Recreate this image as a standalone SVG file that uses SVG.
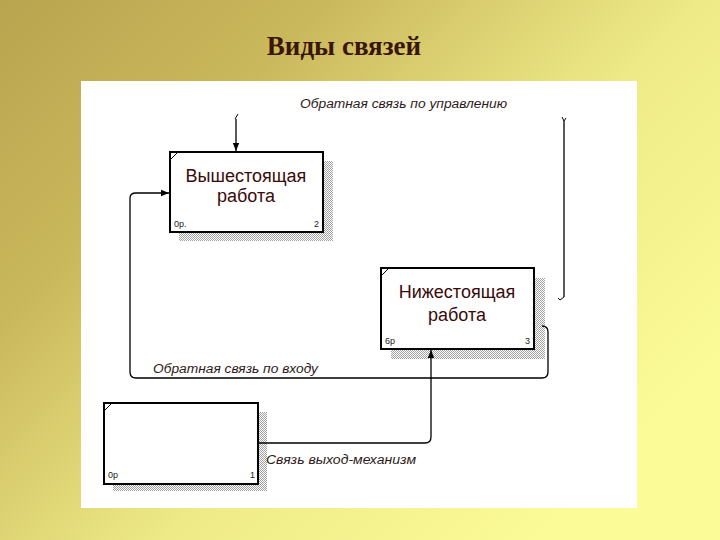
<svg xmlns="http://www.w3.org/2000/svg" width="720" height="540" viewBox="0 0 720 540">
  <defs>
    <linearGradient id="bg" gradientUnits="userSpaceOnUse" x1="0" y1="0" x2="540" y2="540">
      <stop offset="0" stop-color="#b9a44f"/>
      <stop offset="0.3" stop-color="#cab85c"/>
      <stop offset="0.65" stop-color="#eeea88"/>
      <stop offset="1" stop-color="#fbfb98"/>
    </linearGradient>
    <pattern id="dots" width="2" height="2" patternUnits="userSpaceOnUse">
      <rect width="2" height="2" fill="#ffffff"/>
      <rect width="1" height="1" fill="#a0a0a0"/>
      <rect x="1" y="1" width="1" height="1" fill="#a0a0a0"/>
    </pattern>
    <marker id="arr" viewBox="0 0 10 10" refX="10" refY="5" markerWidth="8" markerHeight="8" markerUnits="userSpaceOnUse" orient="auto">
      <path d="M0,1 L10,5 L0,9 Z" fill="#000"/>
    </marker>
    <style>
      .box { fill: #ffffff; stroke: #000; stroke-width: 2; }
      .shadow { fill: url(#dots); }
      .tick { stroke: #000; stroke-width: 1; fill: none; }
      .main { font-family: "Liberation Sans", Arial, sans-serif; font-size: 18px; fill: #3a0a0a; text-anchor: middle; }
      .corner { font-family: "Liberation Sans", Arial, sans-serif; font-size: 9px; fill: #222; }
      .lbl { font-family: "Liberation Sans", Arial, sans-serif; font-size: 12.5px; font-style: italic; fill: #2e1a1a; }
      .conn { stroke: #000; stroke-width: 1.3; fill: none; }
      .title { font-family: "Liberation Serif", "Times New Roman", serif; font-size: 27px; font-weight: bold; fill: #3a1608; text-anchor: middle; }
    </style>
  </defs>

  <rect x="0" y="0" width="720" height="540" fill="url(#bg)"/>
  <rect x="81" y="81" width="556" height="427" fill="#ffffff"/>

  <text class="title" x="344" y="55">Виды связей</text>

  <g id="node-upper">
    <rect class="shadow" x="179" y="161" width="154" height="80"/>
    <rect class="box" x="170" y="152" width="153" height="80"/>
    <path class="tick" d="M171,159 L177,153"/>
    <text class="main" x="246" y="182">Вышестоящая</text>
    <text class="main" x="246" y="202">работа</text>
    <text class="corner" x="174" y="227">0р.</text>
    <text class="corner" x="314" y="227">2</text>
  </g>

  <g id="node-lower">
    <rect class="shadow" x="391" y="278" width="154" height="81"/>
    <rect class="box" x="381" y="268" width="153" height="81"/>
    <path class="tick" d="M382,275 L388,269"/>
    <text class="main" x="457" y="298">Нижестоящая</text>
    <text class="main" x="457" y="321">работа</text>
    <text class="corner" x="385" y="344">6р</text>
    <text class="corner" x="525" y="344">3</text>
  </g>

  <g id="node-mech">
    <rect class="shadow" x="113" y="412" width="154" height="79"/>
    <rect class="box" x="104" y="403" width="154" height="81"/>
    <path class="tick" d="M105,410 L111,404"/>
    <text class="corner" x="108" y="478">0р</text>
    <text class="corner" x="250" y="478">1</text>
  </g>

  <g id="connectors">
    <path class="conn" d="M236,119 L236,151" marker-end="url(#arr)"/>
    <path class="tick" d="M235,119 L238,114"/>
    <path class="conn" d="M564,121 L564,297"/>
    <path class="tick" d="M562,117 L564,121 L566,118"/>
    <path class="tick" d="M564,297 L560,300 L558,298"/>
    <path class="conn" d="M542,326 Q548,326 548,332 L548,372 Q548,378 542,378 L136,378 Q130,378 130,372 L130,198 Q130,193 136,193 L169,193" marker-end="url(#arr)"/>
    <path class="conn" d="M258,443 L425,443 Q431,443 431,437 L431,350" marker-end="url(#arr)"/>
  </g>

  <g id="labels">
    <text class="lbl" x="300" y="108" textLength="207" lengthAdjust="spacingAndGlyphs">Обратная связь по управлению</text>
    <text class="lbl" x="153" y="373" textLength="165" lengthAdjust="spacingAndGlyphs">Обратная связь по входу</text>
    <text class="lbl" x="266" y="464" textLength="150" lengthAdjust="spacingAndGlyphs">Связь выход-механизм</text>
  </g>
</svg>
